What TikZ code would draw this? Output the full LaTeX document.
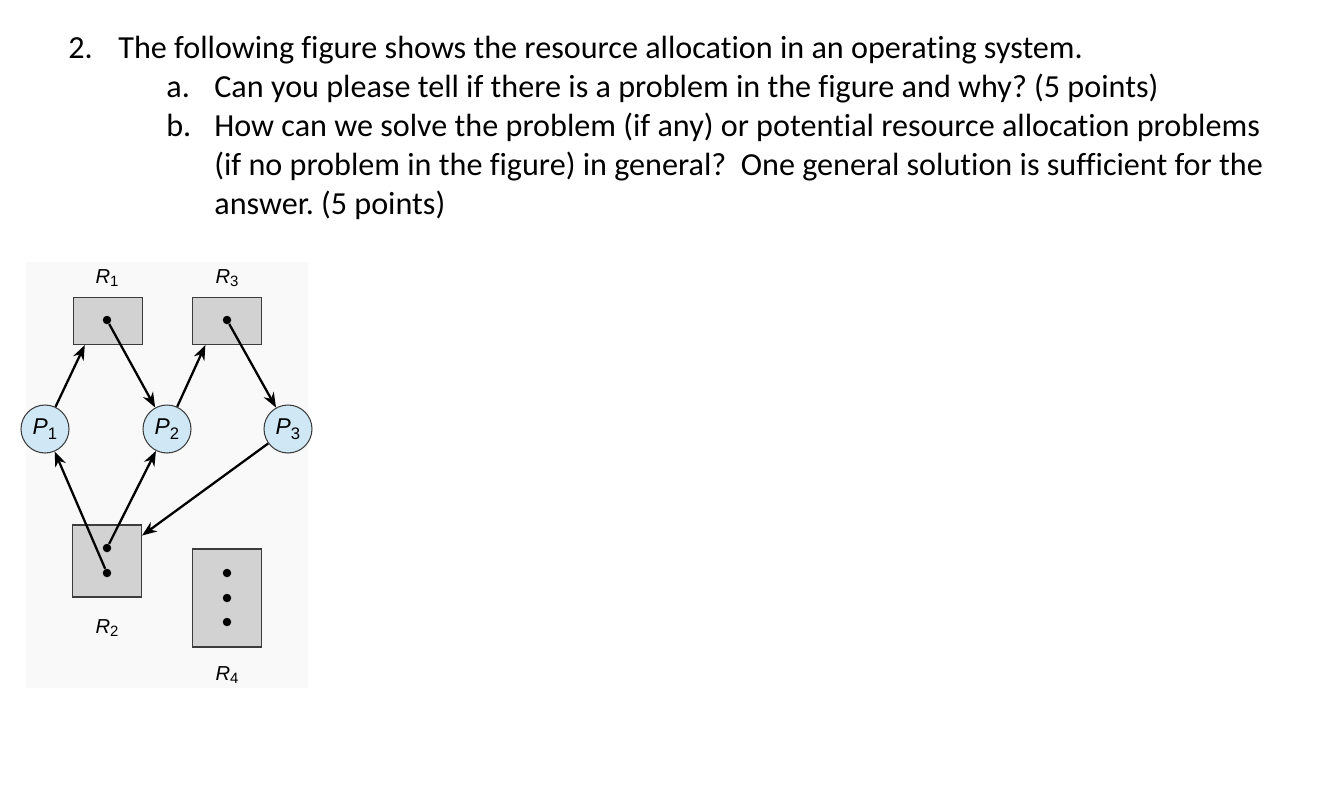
\documentclass[tikz,border=0pt]{standalone}
\usepackage{fontspec}
\setmainfont{Carlito}[Ligatures=NoCommon]
\newfontfamily\figfont{Liberation Sans}
\usetikzlibrary{arrows.meta}
\frenchspacing
\definecolor{boxgray}{RGB}{210,210,210}
\definecolor{procblue}{RGB}{208,232,246}
\definecolor{edgegray}{RGB}{60,60,60}
\definecolor{figback}{RGB}{249,249,249}
\newcommand{\reslabel}[2]{{\figfont\fontsize{11.5pt}{13pt}\selectfont\textit{#1}\raisebox{-0.35ex}{\fontsize{8.5pt}{10pt}\selectfont #2}}}
\newcommand{\proclabel}[2]{{\figfont\fontsize{13pt}{15pt}\selectfont\textit{#1}\raisebox{-0.4ex}{\fontsize{9.5pt}{11pt}\selectfont #2}}}
\begin{document}
\begin{tikzpicture}[x=0.02cm,y=-0.02cm,
    question/.style={anchor=base west,inner sep=0pt,font=\fontsize{18.3pt}{22pt}\selectfont},
    resource/.style={draw=edgegray,fill=boxgray,line width=0.6pt,minimum width=1.38cm,inner sep=0pt},
    process/.style={circle,draw=edgegray,fill=procblue,line width=0.6pt,minimum size=0.96cm,inner sep=0pt},
    instance/.style={circle,fill=black,minimum size=0.17cm,inner sep=0pt},
    request/.style={-{Stealth[length=8.5pt,width=6.5pt]},line width=1.3pt}]
  \useasboundingbox (0,0) rectangle (1318,808);
  \fill[figback] (26,262) rectangle (308,688);
  \draw
    (68,58) node[question] (q2num){2.}
    (118,58) node[question] (q2){The following figure shows the resource allocation in an operating system.}
    (166,97) node[question] (qanum){a.}
    (214,97) node[question] (qa){Can you please tell if there is a problem in the figure and why? (5 points)}
    (166,136) node[question] (qbnum){b.}
    (214,136) node[question] (qb1){How can we solve the problem (if any) or potential resource allocation problems}
    (214,175) node[question] (qb2){(if no problem in the figure) in general?\ \ One general solution is sufficient for the}
    (214,214) node[question] (qb3){answer. (5 points)};
  \draw
    (108,321) node[resource,minimum height=0.94cm] (r1){}
    (227,321) node[resource,minimum height=0.94cm] (r3){}
    (107,561) node[resource,minimum height=1.44cm] (r2){}
    (227,598) node[resource,minimum height=1.96cm] (r4){}
    (107,278) node (r1lab){\reslabel{R}{1}}
    (227,278) node (r3lab){\reslabel{R}{3}}
    (107,628) node (r2lab){\reslabel{R}{2}}
    (227,675) node (r4lab){\reslabel{R}{4}}
    (45,429) node[process] (p1){\proclabel{P}{1}}
    (167,429) node[process] (p2){\proclabel{P}{2}}
    (288,429) node[process] (p3){\proclabel{P}{3}}
    (107,320) node[instance] (r1a){}
    (227,320) node[instance] (r3a){}
    (107,548) node[instance] (r2a){}
    (107,573) node[instance] (r2b){}
    (227,573) node[instance] (r4a){}
    (227,598) node[instance] (r4b){}
    (227,622) node[instance] (r4c){};
  \begin{scope}[request]
    \draw (p1) to (r1.-134);
    \draw (r1a) to (p2);
    \draw (p2) to (r3.-132);
    \draw (r3a) to (p3);
    \draw (r2b) to (p1);
    \draw (r2a) to (p2);
    \draw (p3) to (r2.36);
  \end{scope}
\end{tikzpicture}
\end{document}
